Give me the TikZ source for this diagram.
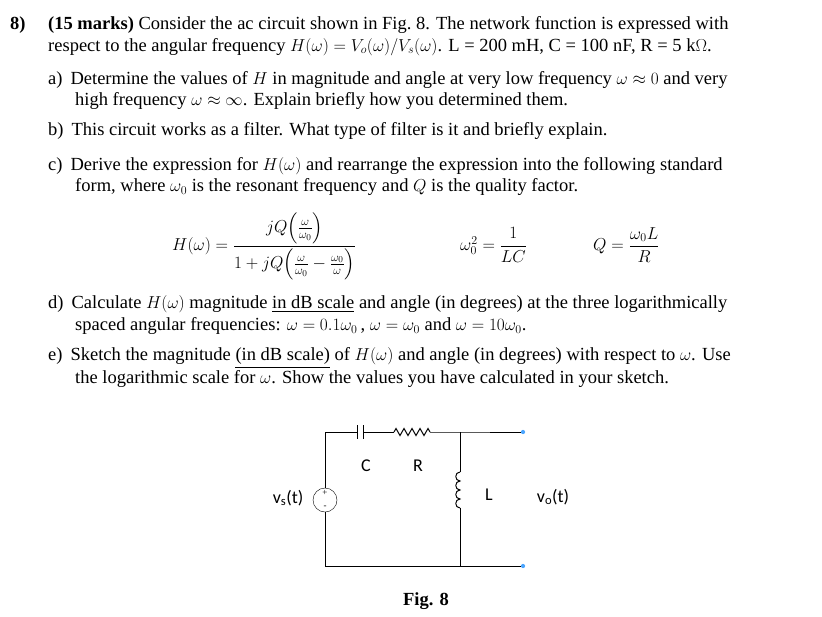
\documentclass[tikz,border=0pt]{standalone}
\usepackage{amsmath}
\usepackage{fontspec}
\setmainfont{Liberation Serif}
\newfontfamily\cirfont{Carlito}
\usetikzlibrary{decorations.pathmorphing}
\begin{document}
\begin{tikzpicture}[x=1pt,y=-1pt,
  txt/.style={anchor=west,inner sep=0pt,font=\fontsize{18.5}{20}\selectfont},
  lbl/.style={inner sep=0pt,font=\cirfont\fontsize{18}{20}\selectfont},
  wire/.style={line width=1pt},
  term/.style={circle,fill=blue!50!cyan!70,inner sep=1.5pt}]
\useasboundingbox (0,0) rectangle (822,616);
\node[txt] (n8) at (10,25) {\textbf{8)}};
\node[txt] (l1) at (48,25) {\textbf{(15 marks)} Consider the ac circuit shown in Fig.~8. The network function is expressed with};
\node[txt] (l2) at (48,47) {respect to the angular frequency $H(\omega)=V_o(\omega)/V_s(\omega)$. L = 200 mH, C = 100 nF, R = 5 k$\Omega$.};
\node[txt] (a1) at (48,80) {a)\hspace{8pt}Determine the values of $H$ in magnitude and angle at very low frequency $\omega\approx0$ and very};
\node[txt] (a2) at (75,101) {high frequency $\omega\approx\infty$. Explain briefly how you determined them.};
\node[txt] (b1) at (48,131) {b)\hspace{8pt}This circuit works as a filter. What type of filter is it and briefly explain.};
\node[txt] (c1) at (48,166) {c)\hspace{8pt}Derive the expression for $H(\omega)$ and rearrange the expression into the following standard};
\node[txt] (c2) at (75,187) {form, where $\omega_0$ is the resonant frequency and $Q$ is the quality factor.};
\node[txt] (eq1) at (172,246) {$H(\omega)=\dfrac{jQ\Bigl(\tfrac{\omega}{\omega_0}\Bigr)}{1+jQ\Bigl(\tfrac{\omega}{\omega_0}-\tfrac{\omega_0}{\omega}\Bigr)}$};
\node[txt] (eq2) at (460,245) {$\omega_0^2=\dfrac{1}{LC}$};
\node[txt] (eq3) at (593,245) {$Q=\dfrac{\omega_0L}{R}$};
\node[txt] (d1) at (48,304) {d)\hspace{8pt}Calculate $H(\omega)$ magnitude \underline{in dB scale} and angle (in degrees) at the three logarithmically};
\node[txt] (d2) at (75,326) {spaced angular frequencies: $\omega=0.1\omega_0$\,, $\omega=\omega_0$ and $\omega=10\omega_0$.};
\node[txt] (e1) at (48,358) {e)\hspace{8pt}Sketch the magnitude \underline{(in dB scale)} of $H(\omega)$ and angle (in degrees) with respect to $\omega$. Use};
\node[txt] (e2) at (75,379) {the logarithmic scale for $\omega$. Show the values you have calculated in your sketch.};
% circuit
\coordinate (tl) at (325,432);
\coordinate (bl) at (325,566);
\coordinate (jt) at (460,432);
\coordinate (jb) at (460,566);
\node[term] (ot) at (523,432) {};
\node[term] (ob) at (523,566) {};
\node[circle,draw,minimum size=24pt,inner sep=0pt] (src) at (325,500) {};
\node[font=\small,inner sep=0pt] (plus) at (325,493) {+};
\node[font=\small,inner sep=0pt] (minus) at (325,507) {-};
\coordinate (c1a) at (357,432);
\coordinate (c1b) at (363,432);
\coordinate (r1a) at (394,432);
\coordinate (r1b) at (430,432);
\coordinate (la) at (460,472);
\coordinate (lb) at (460,508);
\draw[wire] (src.north) -- (tl) -- (c1a);
\draw[wire] (357,425) -- (357,439) (363,425) -- (363,439);
\draw[wire] (c1b) -- (r1a);
\draw[wire,decoration={zigzag,segment length=8pt,amplitude=3.5pt},decorate] (r1a) -- (r1b);
\draw[wire] (r1b) -- (jt) -- (ot);
\draw[wire] (jt) -- (la);
\draw[wire] (la) to[out=180,in=180,looseness=1.6] (460,481)
  to[out=180,in=180,looseness=1.6] (460,490)
  to[out=180,in=180,looseness=1.6] (460,499)
  to[out=180,in=180,looseness=1.6] (lb);
\draw[wire] (lb) -- (jb);
\draw[wire] (src.south) -- (bl) -- (ob);
\node[lbl] (lc) at (366,466) {C};
\node[lbl] (lr) at (418,466) {R};
\node[lbl] (ll) at (489,495) {L};
\node[lbl] (lvs) at (288,498) {v\textsubscript{s}(t)};
\node[lbl] (lvo) at (553,497) {v\textsubscript{o}(t)};
\node[txt,anchor=center] (fig) at (426,601) {\textbf{Fig. 8}};
\end{tikzpicture}
\end{document}
